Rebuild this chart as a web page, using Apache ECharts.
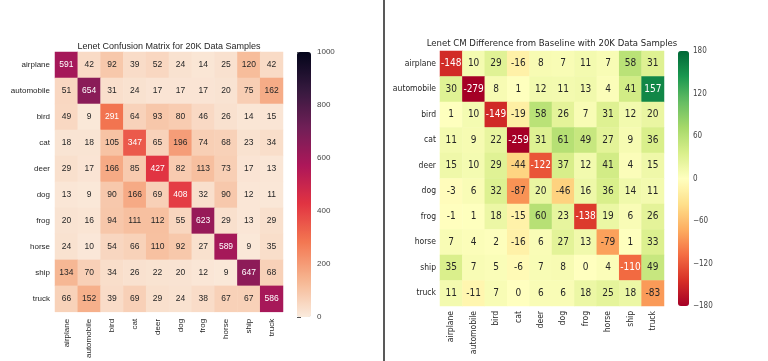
<!DOCTYPE html>
<html><head><meta charset="utf-8">
<script src="https://cdn.jsdelivr.net/npm/echarts@6/dist/echarts.min.js"></script>
<style>html,body{margin:0;padding:0;background:#fff}#c{width:768px;height:361px}</style>
</head><body><div id="c"></div>
<script>
const classes = ['airplane','automobile','bird','cat','deer','dog','frog','horse','ship','truck'];
const leftTitle = 'Lenet Confusion Matrix for 20K Data Samples';
const rightTitle = 'Lenet CM Difference from Baseline with 20K Data Samples';
const leftMatrix = [
  [591,42,92,39,52,24,14,25,120,42],
  [51,654,31,24,17,17,17,20,75,162],
  [49,9,291,64,93,80,46,26,14,15],
  [18,18,105,347,65,196,74,68,23,34],
  [29,17,166,85,427,82,113,73,17,13],
  [13,9,90,166,69,408,32,90,12,11],
  [20,16,94,111,112,55,623,29,13,29],
  [24,10,54,66,110,92,27,589,9,35],
  [134,70,34,26,22,20,12,9,647,68],
  [66,152,39,69,29,24,38,67,67,586]
];
const rightMatrix = [
  [-148,10,29,-16,8,7,11,7,58,31],
  [30,-279,8,1,12,11,13,4,41,157],
  [1,10,-149,-19,58,26,7,31,12,20],
  [11,9,22,-259,31,61,49,27,9,36],
  [15,10,29,-44,-122,37,12,41,4,15],
  [-3,6,32,-87,20,-46,16,36,14,11],
  [-1,1,18,-15,60,23,-138,19,6,26],
  [7,4,2,-16,6,27,13,-79,1,33],
  [35,7,5,-6,7,8,0,4,-110,49],
  [11,-11,7,0,6,6,18,25,18,-83]
];
const leftTicks = [0,200,400,600,800,1000];
const rightTicks = [-180,-120,-60,0,60,120,180];

// seaborn "rocket_r" and matplotlib "RdYlGn"
const rocketR = ['#faebdd','#f6b48f','#f37651','#e13342','#ad1759','#701f57','#35193e','#03051a'];
const rdylgn = ['#a50026','#d73027','#f46d43','#fdae61','#fee08b','#ffffbf','#d9ef8b','#a6d96a','#66bd63','#1a9850','#006837'];

function build(mat, lo, hi, whiteTest){
  const out = [];
  mat.forEach((row, r) => row.forEach((v, c) => {
    out.push({value:[c, r, v, Math.max(lo, Math.min(hi, v))],
      label:{color: whiteTest(v) ? '#ffffff' : '#262626'}});
  }));
  return out;
}
const leftData = build(leftMatrix, 0, 1000, v => v >= 250);
const rightData = build(rightMatrix, -180, 180, v => Math.abs(v) >= 100);

const LF = 'Liberation Sans, Arial, sans-serif';
const RF = 'DejaVu Sans Condensed, DejaVu Sans, sans-serif';

const chart = echarts.init(document.getElementById('c'));
chart.setOption({
  backgroundColor:'#fff',
  animation:false,
  title:[
    {text:leftTitle, left:169, top:42, textAlign:'center', padding:0,
     textStyle:{fontFamily:LF, fontSize:9, fontWeight:'normal', color:'#262626'}},
    {text:rightTitle, left:552, top:39, textAlign:'center', padding:0,
     textStyle:{fontFamily:RF, fontSize:9.5, fontWeight:'normal', color:'#262626'}}
  ],
  grid:[
    {left:55, top:52, width:228, height:264},
    {left:440, top:51, width:224, height:255},
    {left:297, top:52, width:14, height:265},
    {left:678, top:51, width:11, height:255}
  ],
  xAxis:[
    {type:'category', gridIndex:0, data:classes, axisLine:{show:false}, axisTick:{show:false}, splitLine:{show:false},
     axisLabel:{rotate:90, fontFamily:LF, fontSize:8, color:'#262626', margin:7, interval:0}},
    {type:'category', gridIndex:1, data:classes, axisLine:{show:false}, axisTick:{show:false}, splitLine:{show:false},
     axisLabel:{rotate:90, fontFamily:RF, fontSize:8.5, color:'#262626', margin:5, interval:0}},
    {type:'value', gridIndex:2, show:false, min:0, max:1},
    {type:'value', gridIndex:3, show:false, min:0, max:1}
  ],
  yAxis:[
    {type:'category', gridIndex:0, data:classes, inverse:true, axisLine:{show:false}, axisTick:{show:false}, splitLine:{show:false},
     axisLabel:{fontFamily:LF, fontSize:8, color:'#262626', margin:5, interval:0}},
    {type:'category', gridIndex:1, data:classes, inverse:true, axisLine:{show:false}, axisTick:{show:false}, splitLine:{show:false},
     axisLabel:{fontFamily:RF, fontSize:8.5, color:'#262626', margin:4, interval:0}},
    {type:'value', gridIndex:2, position:'right', min:leftTicks[0], max:leftTicks[leftTicks.length-1], interval:200,
     axisLine:{show:false}, splitLine:{show:false},
     axisTick:{show:true, length:4, lineStyle:{color:'#555'}},
     axisLabel:{fontFamily:LF, fontSize:8, color:'#444', margin:6, formatter:v => String(v)}},
    {type:'value', gridIndex:3, position:'right', min:rightTicks[0], max:rightTicks[rightTicks.length-1], interval:60,
     axisLine:{show:false}, splitLine:{show:false}, axisTick:{show:false},
     axisLabel:{fontFamily:RF, fontSize:8, color:'#444', margin:4, formatter:v => String(v).replace('-', '\u2212')}}
  ],
  visualMap:[
    {type:'continuous', seriesIndex:0, dimension:3, min:0, max:1000, calculable:false, show:true,
     left:297, top:52, itemWidth:14, itemHeight:265, padding:0, text:null, showLabel:false,
     inRange:{color:rocketR}},
    {type:'continuous', seriesIndex:1, dimension:3, min:-180, max:180, calculable:false, show:true,
     left:678, top:51, itemWidth:11, itemHeight:255, padding:0, text:null, showLabel:false,
     inRange:{color:rdylgn}}
  ],
  series:[
    {type:'heatmap', xAxisIndex:0, yAxisIndex:0, data:leftData,
     encode:{x:0, y:1, value:3},
     label:{show:true, fontFamily:LF, fontSize:8.5, formatter:p => p.value[2]},
     itemStyle:{borderWidth:0}},
    {type:'heatmap', xAxisIndex:1, yAxisIndex:1, data:rightData,
     encode:{x:0, y:1, value:3},
     label:{show:true, fontFamily:RF, fontSize:10, formatter:p => p.value[2]},
     itemStyle:{borderWidth:0}},
    {type:'line', xAxisIndex:2, yAxisIndex:2, data:[], silent:true},
    {type:'line', xAxisIndex:3, yAxisIndex:3, data:[], silent:true}
  ],
  graphic:[
    {type:'line', shape:{x1:384, y1:0, x2:384, y2:361}, style:{stroke:'#222', lineWidth:1.5}}
  ]
});
</script></body></html>
